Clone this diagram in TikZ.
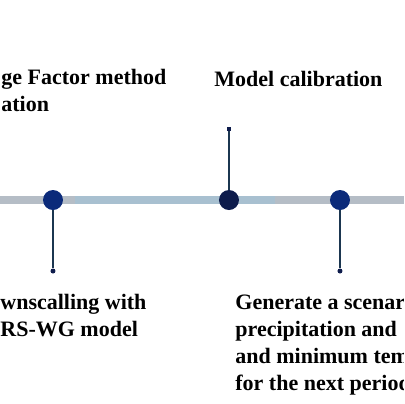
\documentclass[tikz,border=0pt]{standalone}
\usepackage{fontspec}
\setmainfont{Liberation Serif}
\definecolor{lineGray}{HTML}{B5BDC6}
\definecolor{lineBlue}{HTML}{A8C0D0}
\definecolor{dotBlue}{HTML}{0B2A7A}
\definecolor{dotNavy}{HTML}{0E1C4C}
\definecolor{stemBlue}{HTML}{1B3650}
\begin{document}
\begin{tikzpicture}[x=0.5pt, y=-0.5pt, point style/.style={circle, fill=dotBlue, minimum size=10pt, inner sep=0pt}, end style/.style={circle, fill=dotNavy, minimum size=2.5pt, inner sep=0pt}, label style/.style={font=\fontsize{11}{13.5}\selectfont\bfseries, align=left, inner sep=0pt, anchor=base west}]
	\useasboundingbox (0,0) rectangle (404,404);
	\clip (0,0) rectangle (404,404);
	\coordinate (L0) at (0,200);
	\coordinate (L1) at (404,200);
	\coordinate (B0) at (75,200);
	\coordinate (B1) at (275,200);
	\draw[lineGray, line width=4pt] (L0) -- (L1);
	\draw[lineBlue, line width=4pt] (B0) -- (B1);
	\node[point style] (P1) at (53,200) {};
	\node[point style, dotNavy] (P2) at (229,200) {};
	\node[point style] (P3) at (340,200) {};
	\node[end style] (E1) at (53,271) {};
	\node[end style, rectangle, minimum size=2pt] (E2) at (229,129) {};
	\node[end style] (E3) at (340,271) {};
	\foreach \x in {1,...,3}
	\draw[stemBlue, line width=0.75pt] (P\x) -- (E\x);
	% multi-line labels sit on the baseline of their last line
	\node[label style] (T1) at (1,111.8) {ge Factor method\\ation};
	\node[label style] (T2) at (214,86.7) {Model calibration};
	\node[label style] (T3) at (0,336.5) {wnscalling with\\RS-WG model};
	\node[label style] (T4) at (235,390.5) {Generate a scenar\\precipitation and\\and minimum tem\\for the next period};
\end{tikzpicture}
\end{document}
